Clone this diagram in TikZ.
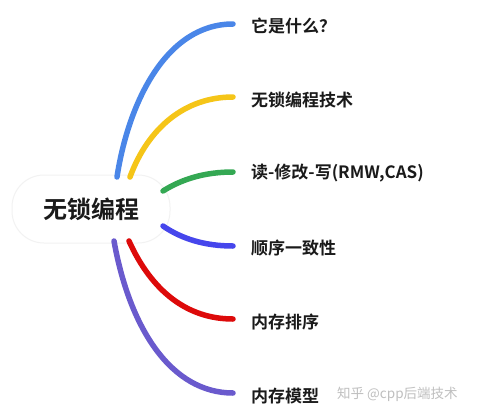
\documentclass[tikz,border=0pt]{standalone}
\usepackage{fontspec}
\setmainfont{Noto Sans CJK SC}
\newfontfamily\cjkb{Noto Sans CJK SC Bold}
\definecolor{cblue}{HTML}{4A86E8}
\definecolor{cyellow}{HTML}{F5C518}
\definecolor{cgreen}{HTML}{34A853}
\definecolor{cindigo}{HTML}{4646EC}
\definecolor{cred}{HTML}{DD0A0A}
\definecolor{cpurple}{HTML}{6A5ACD}
\definecolor{txt}{HTML}{1A1A1A}
\begin{document}
\begin{tikzpicture}[x=1pt,y=-1pt,
  branch/.style={line width=5.5pt,line cap=round},
  lab/.style={anchor=west,inner sep=0pt,font=\cjkb\fontsize{17}{20}\selectfont,text=txt},
  rootbox/.style={draw=black!5,fill=white,rounded corners=32pt,line width=1pt,minimum width=158pt,minimum height=68pt,font=\cjkb\fontsize{24}{28}\selectfont,text=txt}]
\useasboundingbox (0,0) rectangle (477,416);
\fill[white] (0,0) rectangle (477,416);
\node[rootbox] (root) at (91,209) {无锁编程};
% start points
\coordinate (s1) at (117,177);
\coordinate (s2) at (130,177);
\coordinate (s3) at (163,191);
\coordinate (s4) at (163,226);
\coordinate (s5) at (129,241);
\coordinate (s6) at (114,241);
% end points
\coordinate (e1) at (233,24);
\coordinate (e2) at (233,97);
\coordinate (e3) at (233,172);
\coordinate (e4) at (233,246);
\coordinate (e5) at (233,319);
\coordinate (e6) at (233,393);
% labels
\node[lab] (l1) at (251,26) {它是什么？};
\node[lab] (l2) at (251,100) {无锁编程技术};
\node[lab] (l3) at (251,173) {读-修改-写(RMW,CAS)};
\node[lab] (l4) at (251,248) {顺序一致性};
\node[lab] (l5) at (251,322) {内存排序};
\node[lab] (l6) at (251,396) {内存模型};
\node[anchor=west,inner sep=0pt,font=\fontsize{13.5}{16}\selectfont,text=black!25] (wm) at (337,394) {知乎 @cpp后端技术};
% branches
\draw[branch,cblue] (s1) .. controls (128,105) and (165,24) .. (e1);
\draw[branch,cyellow] (s2) .. controls (148,128) and (185,97) .. (e2);
\draw[branch,cgreen] (s3) .. controls (182,179) and (205,172) .. (e3);
\draw[branch,cindigo] (s4) .. controls (182,239) and (205,246) .. (e4);
\draw[branch,cred] (s5) .. controls (152,292) and (188,319) .. (e5);
\draw[branch,cpurple] (s6) .. controls (130,330) and (172,393) .. (e6);
\end{tikzpicture}
\end{document}
